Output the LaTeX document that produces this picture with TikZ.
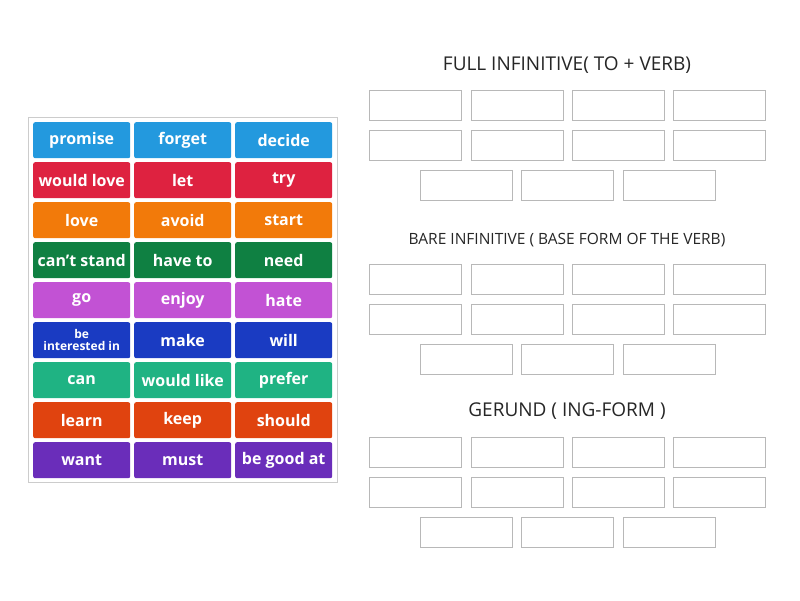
\documentclass[tikz,border=0pt]{standalone}
\usepackage{fontspec}
\setmainfont{Open Sans}
\definecolor{c1}{HTML}{2399DE}
\definecolor{c2}{HTML}{DE2240}
\definecolor{c3}{HTML}{F27A0A}
\definecolor{c4}{HTML}{0F8042}
\definecolor{c5}{HTML}{C252D4}
\definecolor{c6}{HTML}{1A3BC2}
\definecolor{c7}{HTML}{1FB383}
\definecolor{c8}{HTML}{E0430F}
\definecolor{c9}{HTML}{6A2DBA}
\definecolor{slot}{HTML}{B8B8B8}
\begin{document}
\begin{tikzpicture}[x=1pt,y=-1pt,
  tile/.style={rounded corners=2pt,minimum width=97pt,minimum height=36pt,inner sep=0pt,text=white,font=\bfseries\fontsize{16}{17}\selectfont,anchor=north west},
  slotbox/.style={draw=slot,line width=0.8pt,minimum width=92pt,minimum height=30pt,inner sep=0pt,anchor=north west},
  title/.style={font=\fontsize{19}{22}\selectfont,text=black!85}]
\useasboundingbox (0,0) rectangle (800,600);
\fill[white] (0,0) rectangle (800,600);
\draw[black!20,line width=0.8pt] (28,117) rectangle (337,482) node[pos=0,inner sep=0pt] (frame) {};
\foreach \r/\c/\a/\b/\d in {0/c1/promise/forget/decide,1/c2/would love/let/try,2/c3/love/avoid/start,3/c4/can't stand/have to/need,4/c5/go/enjoy/hate,5/c6/{}/make/will,6/c7/can/would like/prefer,7/c8/learn/keep/should,8/c9/want/must/be good at}{
  \node[tile,fill=\c] (t\r a) at (33,122+40*\r) {\a};
  \node[tile,fill=\c] (t\r b) at (134,122+40*\r) {\b};
  \node[tile,fill=\c] (t\r c) at (235,122+40*\r) {\d};
}
\node[text=white,font=\bfseries\fontsize{12}{12}\selectfont,align=center] (bi) at (t5a.center) {be\\interested in};
\node[title] (h1) at (567,65) {FULL INFINITIVE( TO + VERB)};
\node[title,font=\fontsize{15.5}{18}\selectfont] (h2) at (567,240) {BARE INFINITIVE ( BASE FORM OF THE VERB)};
\node[title] (h3) at (567,411) {GERUND ( ING-FORM )};
\foreach \s/\y in {1/90,2/264,3/437}{
  \foreach \i/\x in {1/369,2/471,3/572,4/673}{
    \node[slotbox] (s\s a\i) at (\x,\y) {};
    \node[slotbox] (s\s b\i) at (\x,\y+40) {};
  }
  \foreach \i/\x in {1/420,2/521,3/623}{
    \node[slotbox] (s\s c\i) at (\x,\y+80) {};
  }
}
\end{tikzpicture}
\end{document}
